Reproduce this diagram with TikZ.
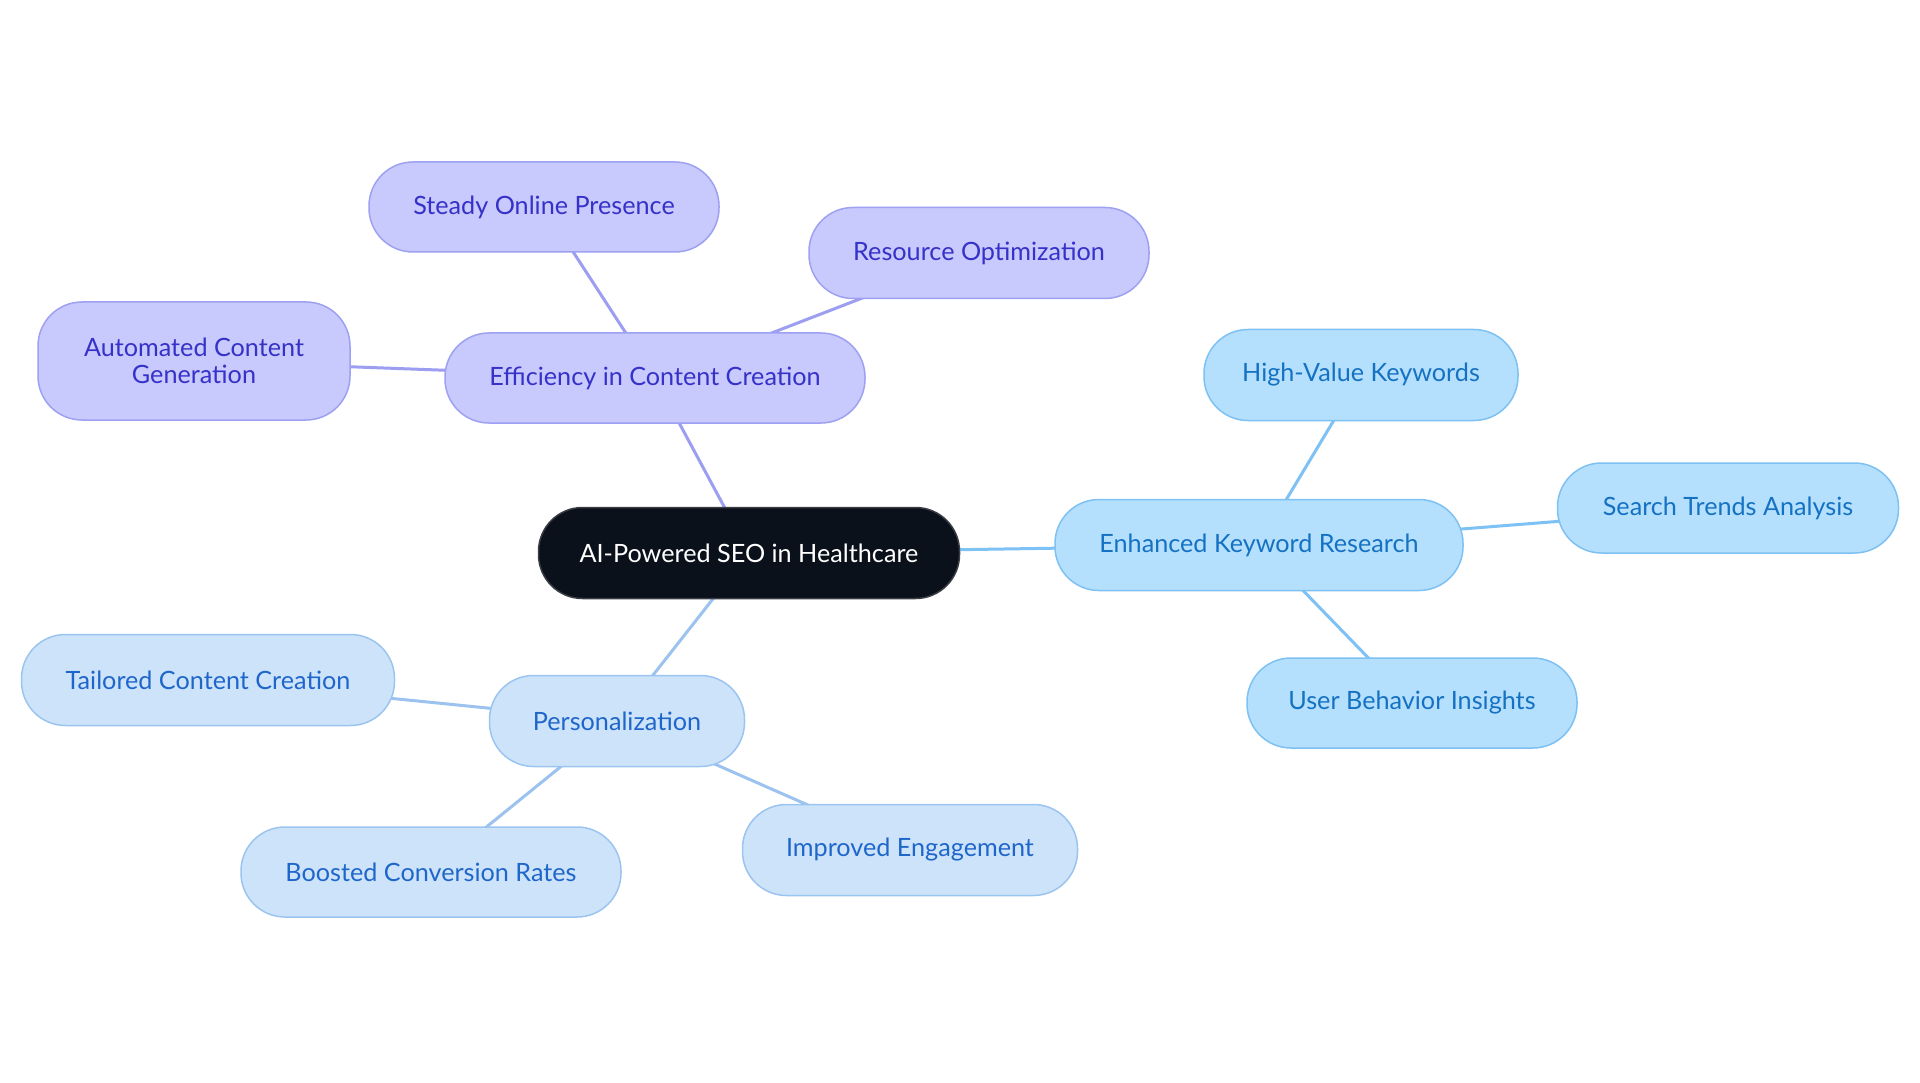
\documentclass[tikz,border=0pt]{standalone}
\usepackage{fontspec}
\setmainfont{Lato}
\definecolor{pfill}{HTML}{C8C9FC}
\definecolor{pdraw}{HTML}{9EA1F2}
\definecolor{ptext}{HTML}{3531C9}
\definecolor{bfill}{HTML}{B4DFFD}
\definecolor{bdraw}{HTML}{7EC1F3}
\definecolor{btext}{HTML}{1572C2}
\definecolor{lfill}{HTML}{CDE3FA}
\definecolor{ldraw}{HTML}{9CC4F0}
\definecolor{ltext}{HTML}{1F66CB}
\definecolor{cfill}{HTML}{0B111B}
\definecolor{plink}{HTML}{9C9EF2}
\definecolor{blink}{HTML}{7EC1F5}
\definecolor{llink}{HTML}{9CC3F0}
\begin{document}
\begin{tikzpicture}[x=1pt,y=-1pt,
  box/.style={rectangle,rounded corners=44pt,line width=1.5pt,inner sep=0pt,align=center,font=\fontsize{25.2}{27}\selectfont,minimum height=90pt},
  pbox/.style={box,fill=pfill,draw=pdraw,text=ptext},
  bbox/.style={box,fill=bfill,draw=bdraw,text=btext},
  lbox/.style={box,fill=lfill,draw=ldraw,text=ltext},
  cbox/.style={box,fill=cfill,draw=cfill!60!gray,text=white},
  plk/.style={draw=plink,line width=3pt},
  blk/.style={draw=blink,line width=3pt},
  llk/.style={draw=llink,line width=3pt}]
\useasboundingbox (0,0) rectangle (1920,1083);
\fill[white] (0,0) rectangle (1920,1083);
% node coordinates
\coordinate (cC) at (749,553);
\coordinate (cE) at (655,378);
\coordinate (cK) at (1259,545);
\coordinate (cP) at (617,721);
\coordinate (cA) at (194,361);
\coordinate (cS) at (544,207);
\coordinate (cR) at (979,253);
\coordinate (cH) at (1361,375);
\coordinate (cT) at (1728,508);
\coordinate (cU) at (1412,703);
\coordinate (cTa) at (208,680);
\coordinate (cB) at (431,872);
\coordinate (cI) at (910,850);
% connectors
\draw[plk] (cC) -- (cE);
\draw[blk] (cC) -- (cK);
\draw[llk] (cC) -- (cP);
\draw[plk] (cE) -- (cA);
\draw[plk] (cE) -- (cS);
\draw[plk] (cE) -- (cR);
\draw[blk] (cK) -- (cH);
\draw[blk] (cK) -- (cT);
\draw[blk] (cK) -- (cU);
\draw[llk] (cP) -- (cTa);
\draw[llk] (cP) -- (cB);
\draw[llk] (cP) -- (cI);
% nodes
\node[cbox,minimum width=421pt,minimum height=91pt] (C) at (cC) {AI-Powered SEO in Healthcare};
\node[pbox,minimum width=420pt] (E) at (cE) {Efficiency in Content Creation};
\node[bbox,minimum width=408pt,minimum height=91pt] (K) at (cK) {Enhanced Keyword Research};
\node[lbox,minimum width=255pt,minimum height=91pt] (P) at (cP) {Personalization};
\node[pbox,minimum width=312pt,minimum height=118pt] (A) at (cA) {Automated Content\\Generation};
\node[pbox,minimum width=350pt] (S) at (cS) {Steady Online Presence};
\node[pbox,minimum width=340pt,minimum height=91pt] (R) at (cR) {Resource Optimization};
\node[bbox,minimum width=314pt,minimum height=91pt] (H) at (cH) {High-Value Keywords};
\node[bbox,minimum width=341pt] (T) at (cT) {Search Trends Analysis};
\node[bbox,minimum width=330pt] (U) at (cU) {User Behavior Insights};
\node[lbox,minimum width=373pt,minimum height=91pt] (Ta) at (cTa) {Tailored Content Creation};
\node[lbox,minimum width=380pt] (B) at (cB) {Boosted Conversion Rates};
\node[lbox,minimum width=335pt,minimum height=91pt] (I) at (cI) {Improved Engagement};
\end{tikzpicture}
\end{document}
